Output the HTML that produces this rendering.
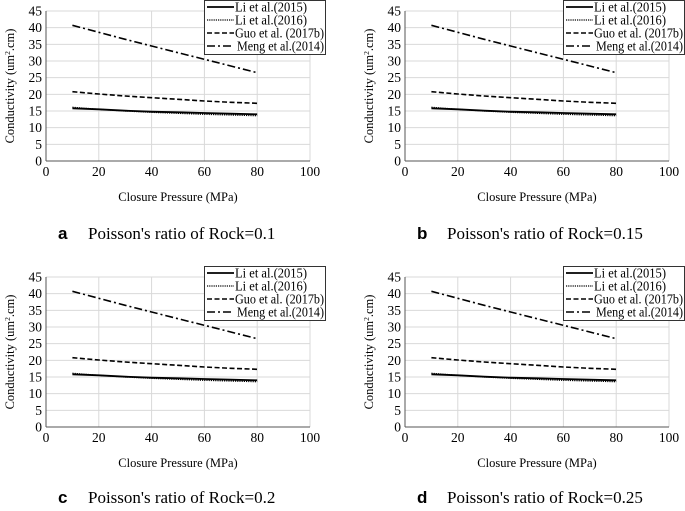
<!DOCTYPE html>
<html><head><meta charset="utf-8"><style>
html,body{margin:0;padding:0;background:#fff;}
svg{display:block;font-family:"Liberation Serif",serif;}
</style></head><body>
<svg id="fig" width="685" height="511" viewBox="0 0 685 511"></svg>
<script>
const pressures = [10, 20, 30, 40, 50, 60, 70, 80];
const li2015 = [15.8, 15.5, 15.1, 14.8, 14.6, 14.4, 14.2, 14.0];
const li2016 = [16.1, 15.5, 15.0, 14.6, 14.3, 14.0, 13.8, 13.6];
const guo2017 = [20.8, 20.1, 19.5, 19.0, 18.5, 18.0, 17.6, 17.3];
const meng2014 = [40.7, 38.6, 36.5, 34.5, 32.5, 30.5, 28.5, 26.5];
const xTicks = [0, 20, 40, 60, 80, 100];
const yTicks = [0, 5, 10, 15, 20, 25, 30, 35, 40, 45];
const seriesNames = ["Li et al.(2015)", "Li et al.(2016)", "Guo et al. (2017b)", "Meng et al.(2014)"];
const panelLetters = ["a", "b", "c", "d"];
const panelRatios = ["0.1", "0.15", "0.2", "0.25"];

const NS = "http://www.w3.org/2000/svg";
const svg = document.getElementById("fig");
function mk(tag, attrs, parent, txt) {
  const e = document.createElementNS(NS, tag);
  for (const k in attrs) e.setAttribute(k, attrs[k]);
  if (txt !== undefined) e.textContent = txt;
  parent.appendChild(e);
  return e;
}
const allSeries = [li2015, li2016, guo2017, meng2014];
const styles = [
  {w: 1.8, dash: ""},
  {w: 1.3, dash: "1.2,1"},
  {w: 1.6, dash: "5,2.5"},
  {w: 1.6, dash: "8,3,2,3"}
];
const offsets = [[0, 0], [359, 0], [0, 266], [359, 266]];
for (let p = 0; p < 4; p++) {
  const dx = offsets[p][0], dy = offsets[p][1];
  const g = mk("g", {transform: "translate(" + dx + "," + dy + ")"}, svg);
  
  
  const X0 = 46, X1 = 310, Y0 = 161, Y1 = 11;
  const xs = v => X0 + (v - 0) / 100 * (X1 - X0);
  const ys = v => Y0 - v / 45 * (Y0 - Y1);
  yTicks.forEach(t => {
    if (t > 0) {
      const l = mk("line", {x1: X0, x2: X1, y1: ys(t), y2: ys(t), stroke: "#d9d9d9", "stroke-width": 1}, g);
      
      
    }
    const tl = mk("text", {x: X0 - 4, y: ys(t) + 4.5, "text-anchor": "end", "font-size": 13.5}, g, String(t));
    
    
  });
  xTicks.forEach(t => {
    if (t > 0) {
      const l = mk("line", {x1: xs(t), x2: xs(t), y1: Y1, y2: Y0, stroke: "#d9d9d9", "stroke-width": 1}, g);
      
      
    }
    const tl = mk("text", {x: xs(t), y: Y0 + 15, "text-anchor": "middle", "font-size": 13.5}, g, String(t));
    
    
  });
  const ax = mk("line", {x1: X0, x2: X0, y1: Y1, y2: Y0, stroke: "#555", "stroke-width": 1}, g);
  
  
  const ax2 = mk("line", {x1: X0, x2: X1, y1: Y0, y2: Y0, stroke: "#555", "stroke-width": 1}, g);
  
  
  allSeries.forEach((s, i) => {
    const d = s.map((v, k) => (k ? "L" : "M") + xs(pressures[k]).toFixed(1) + "," + ys(v).toFixed(1)).join(" ");
    const path = mk("path", {d: d, fill: "none", stroke: "#000", "stroke-width": styles[i].w, "stroke-dasharray": styles[i].dash}, g);
    
    
  });
  const yt = mk("text", {x: 0, y: 0, transform: "translate(14," + ((Y0 + Y1) / 2) + ") rotate(-90)", "text-anchor": "middle", "font-size": 12.5}, g);
  yt.innerHTML = 'Conductivity (um<tspan dy="-4" font-size="7.5">2</tspan><tspan dy="4">.cm)</tspan>';
  
  
  const xt = mk("text", {x: (X0 + X1) / 2, y: 201, "text-anchor": "middle", "font-size": 12.5}, g, "Closure Pressure (MPa)");
  
  
  const lg = mk("g", {}, g);
  
  
  const lb = mk("rect", {x: 204.5, y: 0.5, width: 121, height: 54, fill: "#fff", stroke: "#333", "stroke-width": 1}, lg);
  
  
  seriesNames.forEach((n, i) => {
    const yy = 7 + i * 13;
    const ll = mk("line", {x1: 207, x2: 234, y1: yy, y2: yy, stroke: "#000", "stroke-width": styles[i].w, "stroke-dasharray": styles[i].dash}, lg);
    
    
    const lt = mk("text", {x: i === 3 ? 237 : 235, y: yy + 4.5, "font-size": 13.2, textLength: i === 3 ? 87 : (i === 2 ? 89 : 72), lengthAdjust: "spacingAndGlyphs"}, lg, n);
    
    
  });
  const cy = p < 2 ? 239 : 237;
  const cl = mk("text", {x: 58, y: cy, "font-size": 17, "font-weight": "bold", "font-family": "Liberation Sans, sans-serif"}, g, panelLetters[p]);
  
  
  const ct = mk("text", {x: 88, y: cy, "font-size": 17}, g, "Poisson's ratio of Rock=" + panelRatios[p]);
  
  
}
</script>
</body></html>
